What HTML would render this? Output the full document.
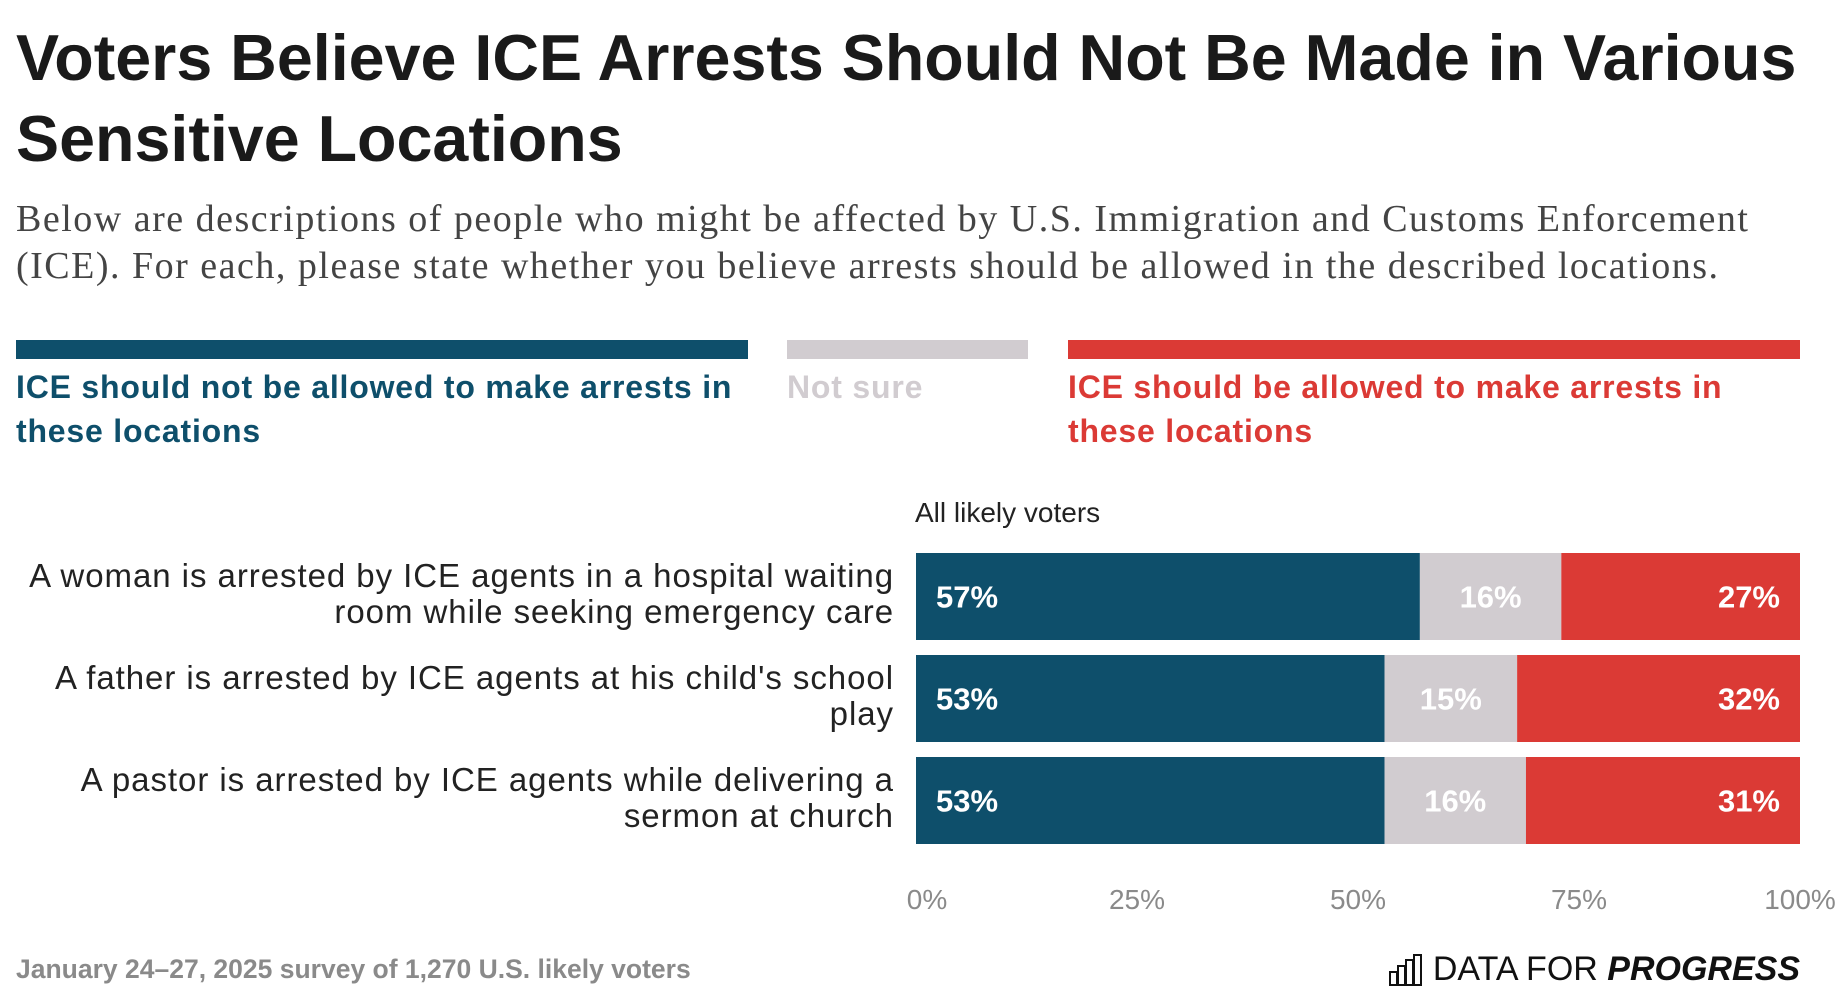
<!DOCTYPE html>
<html><head><meta charset="utf-8">
<style>
body{margin:0;width:1840px;height:1004px;background:#fff;font-family:"Liberation Sans",sans-serif;position:relative;overflow:hidden}
.abs{position:absolute}
#title{left:16px;top:18px;font-size:64.6px;font-weight:bold;line-height:81px;color:#1a1a1a;letter-spacing:0px}
#subtitle{left:16px;top:196px;font-family:"Liberation Serif",serif;font-size:38px;letter-spacing:1.5px;line-height:47px;color:#444;white-space:nowrap}
.lg{top:365px;font-size:32px;letter-spacing:0.8px;line-height:44px;font-weight:bold}
</style></head><body>
<div id="title" class="abs">Voters Believe ICE Arrests Should Not Be Made in Various<br>Sensitive Locations</div>
<div id="subtitle" class="abs">Below are descriptions of people who might be affected by U.S. Immigration and Customs Enforcement<br>(ICE). For each, please state whether you believe arrests should be allowed in the described locations.</div>
<div class="abs" style="left:16px;top:340px;width:732px;height:19px;background:#0e4f6b"></div>
<div class="abs" style="left:787px;top:340px;width:241px;height:19px;background:#d1ccd0"></div>
<div class="abs" style="left:1068px;top:340px;width:732px;height:19px;background:#db3a35"></div>
<div class="abs lg" style="left:16px;color:#0e4f6b">ICE should not be allowed to make arrests in<br>these locations</div>
<div class="abs lg" style="left:787px;color:#d1ccd0">Not sure</div>
<div class="abs lg" style="left:1068px;color:#db3a35">ICE should be allowed to make arrests in<br>these locations</div>
<svg class="abs" style="left:0;top:0" width="1840" height="1004" id="chart"></svg>
<div class="abs" style="left:16px;top:954px;font-size:26.5px;font-weight:bold;color:#8a8a8a">January 24–27, 2025 survey of 1,270 U.S. likely voters</div>
<div class="abs" style="right:40px;top:950px;font-size:34px;color:#111;display:flex;align-items:center">
<svg width="34" height="32" style="margin-right:10px"><g fill="none" stroke="#111" stroke-width="2"><rect x="1" y="18" width="7" height="13"/><rect x="9" y="12" width="7" height="19"/><rect x="17" y="6" width="7" height="25"/><rect x="25" y="1" width="7" height="30"/></g></svg>
<span>DATA FOR&nbsp;</span><b><i>PROGRESS</i></b></div>
<script>
const categories=["A woman is arrested by ICE agents in a hospital waiting|room while seeking emergency care","A father is arrested by ICE agents at his child's school|play","A pastor is arrested by ICE agents while delivering a|sermon at church"];
const notAllowed=[57,53,53];
const notSure=[16,15,16];
const allowed=[27,32,31];
const ticks=[0,25,50,75,100];
const NS="http://www.w3.org/2000/svg";
const svg=document.getElementById('chart');
const x0=916,x1=1800,y0=553,step=102,bh=87;
const xs=v=>x0+v/100*(x1-x0);
const ys=i=>y0+i*step;
function mk(tag,attrs,txt){const e=document.createElementNS(NS,tag);for(const k in attrs)e.setAttribute(k,attrs[k]);if(txt!=null)e.textContent=txt;svg.appendChild(e);return e;}
let t=mk('text',{x:915,y:522,'font-size':28,fill:'#222'},'All likely voters');


const cols=['#0e4f6b','#d1ccd0','#db3a35'];
const names=['not-allowed','not-sure','allowed'];
categories.forEach((c,i)=>{
  const vals=[notAllowed[i],notSure[i],allowed[i]];
  let acc=0;
  vals.forEach((v,j)=>{
    const r=mk('rect',{x:xs(acc),y:ys(i),width:xs(acc+v)-xs(acc),height:bh,fill:cols[j]});
    
    
    let lx,anchor;
    if(j==0){lx=xs(acc)+20;anchor='start';}else if(j==2){lx=xs(acc+v)-20;anchor='end';}else{lx=(xs(acc)+xs(acc+v))/2;anchor='middle';}
    const l=mk('text',{x:lx,y:ys(i)+bh/2+11,'font-size':31,'font-weight':'bold',fill:'#fff','text-anchor':anchor},v+'%');
    
    
    acc+=v;
  });
  const lines=c.split('|');
  lines.forEach((ln,k)=>{
    const ct=mk('text',{x:894,y:ys(i)+34+k*36,'font-size':33,'letter-spacing':0.95,fill:'#222','text-anchor':'end'},ln);
    
    
  });
});
ticks.forEach(v=>{
  let tx=xs(v);
  if(v==0)tx+=11;
  const tl=mk('text',{x:tx,y:909,'font-size':28,fill:'#8a8a8a','text-anchor':'middle'},v+'%');
  
  
});
</script>
</body></html>
